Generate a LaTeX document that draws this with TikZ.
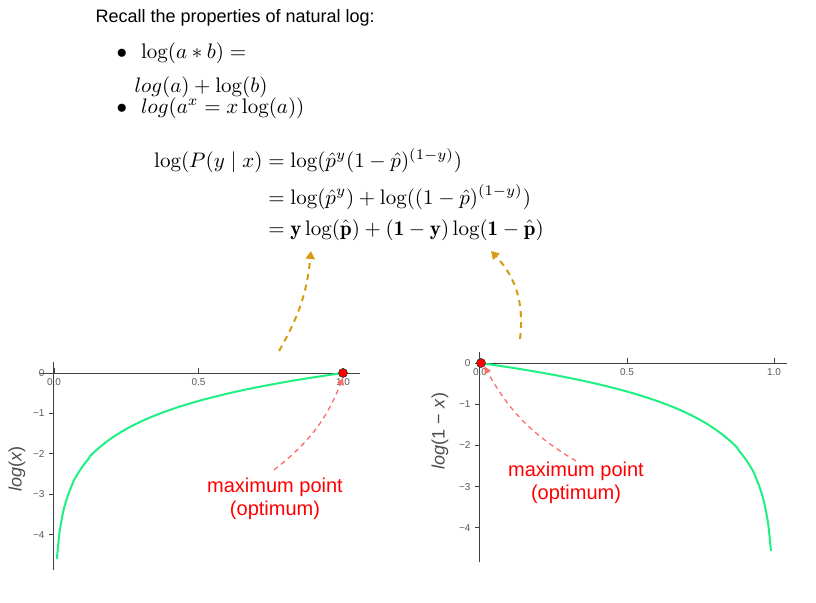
\documentclass[tikz,border=0pt]{standalone}
\usepackage{fontspec}
\usepackage{amsmath,graphicx}
\setsansfont{Liberation Sans}
\usetikzlibrary{arrows.meta}
\begin{document}
\begin{tikzpicture}[x=1pt,y=-1pt,
  ax/.style={draw=black!75,line width=0.8pt},
  tk/.style={font=\sffamily\fontsize{10}{11}\selectfont,text=black!65},
  crv/.style={draw={rgb,255:red,30;green,240;blue,130},line width=2pt},
  oarr/.style={draw={rgb,255:red,215;green,155;blue,20},line width=2pt,dash pattern=on 6pt off 5pt,-{Triangle[length=8pt,width=9pt]}},
  rarr/.style={draw={rgb,255:red,250;green,110;blue,110},line width=1.3pt,dash pattern=on 5pt off 4pt,-{Triangle[length=7pt,width=7pt]}},
  lbl/.style={font=\sffamily\fontsize{20}{23}\selectfont,text=red,align=center},
  dot/.style={circle,fill=red,draw=black!80,line width=0.6pt,inner sep=0pt,minimum size=9pt}]
\useasboundingbox (0,0) rectangle (816,602);
\node[anchor=west,font=\sffamily\fontsize{18}{20}\selectfont] (t) at (92,18) {Recall the properties of natural log:};
\node[anchor=west] (b1) at (113,53) {\scalebox{2.1}{$\bullet$\ \ $\log(a*b)=$}};
\node[anchor=west] (b1b) at (131,87) {\scalebox{2.1}{$log(a)+\log(b)$}};
\node[anchor=west] (b2) at (113,108) {\scalebox{2.1}{$\bullet$\ \ $log(a^x = x\log(a))$}};
\node[anchor=north west,inner sep=0pt] (eq) at (154,148) {\scalebox{2.1}{$\begin{aligned}
\log(P(y\mid x) &= \log(\hat p^{y}(1-\hat p)^{(1-y)})\\[0.5pt]
&= \log(\hat p^{y})+\log((1-\hat p)^{(1-y)})\\[-0.5pt]
&= \mathbf{y}\log(\hat{\mathbf p})+(\mathbf{1}-\mathbf{y})\log(\mathbf{1}-\hat{\mathbf p})
\end{aligned}$}};
% left plot
\coordinate (la1) at (40,373); \coordinate (la2) at (360,373);
\coordinate (lb1) at (53,362); \coordinate (lb2) at (53,570);
\draw[ax] (la1) -- (la2); \draw[ax] (lb1) -- (lb2);
\foreach \v/\l in {0/0.0,0.5/0.5,1/1.0}{\draw[ax] (54+289*\v,373)--(54+289*\v,368); \node[tk,anchor=north] (lx\v) at (54+289*\v,375) {\l};}
\foreach \v/\l in {0/0,1/−1,2/−2,3/−3,4/−4}{\draw[ax] (53,373+40.4*\v)--(49,373+40.4*\v); \node[tk,anchor=east] (ly\v) at (48,373+40.4*\v) {\l};}
\draw[crv] plot[domain=0.01:1,samples=120,smooth] ({54+289*\x},{373-40.4*ln(\x)});
\node[dot] (lm) at (343,373) {};
\node[rotate=90,font=\sffamily\fontsize{18}{20}\selectfont,text=black!70] (lyl) at (17,469) {\textit{log}(\textit{x})};
\node[lbl] (ll) at (275,499) {maximum point\\(optimum)};
\coordinate (lr0) at (274,470);
\draw[rarr] (lr0) to[bend right=15] (lm.south);
% right plot
\coordinate (ra1) at (479,363); \coordinate (ra2) at (787,363);
\coordinate (rb1) at (479,352); \coordinate (rb2) at (479,562);
\draw[ax] (ra1) -- (ra2); \draw[ax] (rb1) -- (rb2);
\foreach \v/\l in {0/0.0,0.5/0.5,1/1.0}{\draw[ax] (480+294*\v,363)--(480+294*\v,358); \node[tk,anchor=north] (rx\v) at (480+294*\v,365) {\l};}
\foreach \v/\l in {0/0,1/−1,2/−2,3/−3,4/−4}{\draw[ax] (479,363+41.2*\v)--(475,363+41.2*\v); \node[tk,anchor=east] (ry\v) at (474,363+41.2*\v) {\l};}
\draw[crv] plot[domain=0:0.99,samples=120,smooth] ({480+294*\x},{363-41.2*ln(1-\x)});
\node[dot] (rm) at (481,363) {};
\node[rotate=90,font=\sffamily\fontsize{18}{20}\selectfont,text=black!70] (ryl) at (440,431) {\textit{log}(1 − \textit{x})};
\node[lbl] (rl) at (576,483) {maximum point\\(optimum)};
\coordinate (rr0) at (576,461);
\draw[rarr] (rr0) to[bend left=15] (rm.south east);
% orange arrows
\coordinate (o1s) at (279,351); \coordinate (o1e) at (311,251);
\coordinate (o2s) at (520,339); \coordinate (o2e) at (491,251);
\draw[oarr] (o1s) to[bend right=12] (o1e);
\draw[oarr] (o2s) to[bend right=25] (o2e);
\end{tikzpicture}
\end{document}
